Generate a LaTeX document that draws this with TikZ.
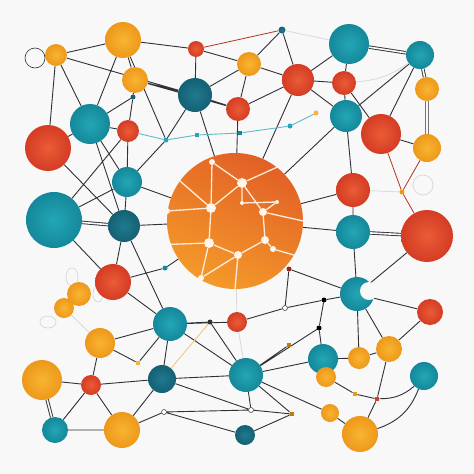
\documentclass[tikz,border=0pt]{standalone}
\usetikzlibrary{backgrounds}

\definecolor{paper}{RGB}{248,248,248}
\definecolor{wire}{RGB}{48,49,54}
\definecolor{amberC}{RGB}{238,152,26}
\definecolor{amberL}{RGB}{248,180,50}
\definecolor{emberC}{RGB}{212,60,36}
\definecolor{emberL}{RGB}{234,92,54}
\definecolor{lagoonC}{RGB}{20,136,154}
\definecolor{lagoonL}{RGB}{36,166,182}
\definecolor{deepC}{RGB}{20,96,116}
\definecolor{deepL}{RGB}{32,122,142}
\definecolor{hubC}{RGB}{244,154,42}
\definecolor{hubD}{RGB}{226,96,38}

\tikzset{
  ball/.style={circle, inner sep=0pt, minimum size=#1pt},
  amber/.style={ball=#1, inner color=amberL, outer color=amberC},
  ember/.style={ball=#1, inner color=emberL, outer color=emberC},
  lagoon/.style={ball=#1, inner color=lagoonL, outer color=lagoonC},
  deep/.style={ball=#1, inner color=deepL, outer color=deepC},
  spot/.style={circle, inner sep=0pt, minimum size=#1pt, fill=white!92!orange},
  knot/.style={circle, inner sep=0pt, minimum size=5pt, fill=#1},
  tag/.style={rectangle, inner sep=0pt, minimum size=4.5pt, fill=#1},
  hollow/.style={circle, inner sep=0pt, minimum size=5pt, fill=white, draw=wire, line width=0.5pt},
  ring/.style={circle, inner sep=0pt, minimum size=20pt, draw=#1, line width=0.6pt},
  link/.style={draw=wire, line width=0.9pt},
  twin/.style={link, double=paper, double distance=1.6pt},
  faint/.style={draw=gray!30, line width=0.8pt},
  spoke/.style={draw=white!85!orange, line width=1.3pt},
  tealink/.style={draw=lagoonL!75, line width=0.9pt},
  redlink/.style={draw=emberC!85!black, line width=0.8pt},
}

\begin{document}
\begin{tikzpicture}[x=1pt, y=-1pt]
  \useasboundingbox (0,0) rectangle (474,474);
  \begin{scope}[on background layer]
    \fill[paper] (0,0) rectangle (474,474);
  \end{scope}

  %% big hub
  \node[circle, inner sep=0pt, minimum size=136pt, top color=hubD, bottom color=hubC, shading angle=-25] (hub) at (235,221) {};

  %% amber balls
  \node[amber=36] (a1) at (123,40) {};
  \node[amber=22] (a2) at (56,55) {};
  \node[amber=26] (a3) at (135,80) {};
  \node[amber=24] (a4) at (249,64) {};
  \node[amber=24] (a5) at (427,89) {};
  \node[amber=28] (a6) at (427,148) {};
  \node[amber=20] (a8) at (64,308) {};
  \node[amber=24] (a7) at (79,294) {};
  \node[amber=30] (a9) at (100,343) {};
  \node[amber=40] (a10) at (42,380) {};
  \node[amber=36] (a11) at (122,430) {};
  \node[amber=22] (a12) at (359,358) {};
  \node[amber=26] (a13) at (389,349) {};
  \node[amber=18] (a15) at (330,413) {};
  \node[amber=36] (a16) at (360,434) {};

  %% ember balls
  \node[ember=16] (r1) at (196,49) {};
  \node[ember=24] (r2) at (238,109) {};
  \node[ember=22] (r3) at (128,131) {};
  \node[ember=46] (r4) at (48,148) {};
  \node[ember=32] (r5) at (298,80) {};
  \node[ember=24] (r6) at (344,83) {};
  \node[ember=40] (r7) at (381,134) {};
  \node[ember=34] (r8) at (353,190) {};
  \node[ember=52] (r9) at (427,236) {};
  \node[ember=36] (r10) at (113,282) {};
  \node[ember=20] (r11) at (237,322) {};
  \node[ember=20] (r12) at (91,385) {};
  \node[ember=26] (r13) at (430,312) {};

  %% teal balls
  \node[deep=34] (t1) at (195,95) {};
  \node[lagoon=40] (t2) at (90,124) {};
  \node[lagoon=30] (t3) at (127,182) {};
  \node[lagoon=56] (t4) at (54,220) {};
  \node[deep=32] (t5) at (124,226) {};
  \node[lagoon=40] (t6) at (349,44) {};
  \node[lagoon=28] (t7) at (420,55) {};
  \node[lagoon=32] (t8) at (346,116) {};
  \node[lagoon=34] (t9) at (353,232) {};
  \node[lagoon=34] (t10) at (357,294) {};
  \node[lagoon=34] (t11) at (170,324) {};
  \node[deep=28] (t12) at (162,379) {};
  \node[lagoon=34] (t13) at (246,375) {};
  \node[lagoon=30] (t14) at (323,359) {};
  \node[amber=20] (a14) at (326,377) {};
  \node[lagoon=28] (t15) at (424,376) {};
  \node[lagoon=26] (t16) at (55,430) {};
  \node[deep=20] (t17) at (245,435) {};
  \node[deep=7] (d0) at (282,30) {};
  \fill[paper] (369,291) circle (9);

  %% empty rings
  \node[ring=wire] (c1) at (35,58) {};
  \node[ring=gray!35] (c2) at (423,185) {};

  %% small junctions
  \node[knot=deepC] (j1) at (133,97) {};
  \node[knot=lagoonL] (j2) at (166,140) {};
  \node[tag=lagoonL] (j3) at (197,135) {};
  \node[tag=lagoonC] (j4) at (240,133) {};
  \node[knot=lagoonL] (j5) at (290,126) {};
  \node[knot=amberL] (jy1) at (316,113) {};
  \node[knot=amberC] (jo) at (402,192) {};
  \node[tag=emberC] (jr) at (377,399) {};
  \node[tag=amberC] (jy2) at (355,394) {};
  \node[tag=amberL] (jy3) at (138,363) {};
  \node[knot=wire] (k1) at (210,322) {};
  \node[hollow] (k2) at (251,410) {};
  \node[tag=amberC!80!black] (k3) at (289,345) {};
  \node[tag=amberC!80!black] (k4) at (292,414) {};
  \node[hollow] (k5) at (285,308) {};
  \node[hollow] (k6) at (164,412) {};
  \node[knot=lagoonC] (k7) at (165,268) {};
  \node[knot=black] (k8) at (324,300) {};
  \node[knot=black] (k9) at (319,328) {};
  \node[knot=emberC!70!black] (k10) at (289,269) {};

  %% white spots on the hub
  \node[spot=6] (h1) at (212,162) {};
  \node[spot=10] (h2) at (242,183) {};
  \node[spot=10] (h3) at (211,208) {};
  \node[spot=8] (h4) at (263,212) {};
  \node[spot=4] (h5) at (242,203) {};
  \node[spot=4] (h6) at (277,202) {};
  \node[spot=10] (h7) at (209,243) {};
  \node[spot=8] (h8) at (265,240) {};
  \node[spot=8] (h9) at (238,255) {};
  \node[spot=6] (h10) at (273,249) {};
  \node[spot=6] (h11) at (201,278) {};
  \node[spot=6] (h12) at (167,211) {};

  \draw[spoke] (h3) -- (h2) -- (h4) -- (h8) -- (h9) -- (h7) -- (h3)
    (h1) -- (h2)  (h1) -- (h3)  (h3) -- (h12)  (h3) -- (hub.144)
    (h2) -- (hub.52)  (h4) -- (hub.0)  (h4) -- (h6)  (h5) -- (h6)
    (h5) -- (h2)  (h8) -- (h10)  (h10) -- (hub.-30)  (h9) -- (h11)
    (h7) -- (h11)  (h9) -- (hub.-90)  (h7) -- (hub.200);

  %% connectors
  \begin{scope}[on background layer]
    \draw[link] (a2) -- (a1)  (a2) -- (t2)  (a2) -- (r4)  (a2) -- (t1)
      (a1) -- (t2)  (a1) -- (a3)  (a1) -- (r1)  (a1) -- (j2)
      (a3) -- (t1)  (a3) -- (j1)  (j1) -- (r3)  (t2) -- (j1)  (a3) -- (r2)
      (t2) -- (r4)  (t2) -- (t3)  (t2) -- (t5)  (t2) -- (r3)
      (r4) -- (t5)  (r3) -- (t4)  (r3) -- (t3)
      (r1) -- (t1)  (r1) -- (a4)  (t1) -- (r2)  (t1) -- (a4)  (t1) -- (j2)  (t1) -- (hub)
      (a4) -- (d0)  (a4) -- (r2)  (a4) -- (r5)  (d0) -- (r5)  (r2) -- (r5)  (r2) -- (hub)
      (r5) -- (r6)  (r5) -- (t6)  (r5) -- (hub)  (r5) -- (t8)
      (r6) -- (t6)  (r6) -- (t8)  (r6) -- (r7)  (t7) -- (r7)  (t7) -- (t8)  (a6) -- (r7)
      (t8) -- (hub)  (t8) -- (r8)  (r8) -- (hub)  (r8) -- (t9)  (t9) -- (hub)  (t9) -- (t10)
      (r9) -- (t10)  (t10) -- (r13)  (t10) -- (a13)  (r13) -- (a13)  (t10) -- (a12)
      (a12) -- (a13)  (t14) -- (a12)
      (t4) -- (t3)  (t4) -- (r10)  (t5) -- (t3)  (t5) -- (r10)  (t5) -- (hub)  (t3) -- (hub)
      (t5) -- (t11)  (t3) -- (j2)  (r10) -- (k7)  (k7) -- (hub)  (r10) -- (t11)
      (t11) -- (r11)  (t11) -- (t12)  (t11) -- (t13)  (t12) -- (t13)  (k1) -- (t13)
      (t11) -- (k1)  (t13) -- (k3)  (t13) -- (k4)  (t12) -- (k2)  (k2) -- (k4)  (k2) -- (t13)
      (t13) -- (t14)  (r11) -- (k5)
      (a10) -- (r12)  (r12) -- (t16)  (r12) -- (a11)  (r12) -- (a9)  (r12) -- (t12)
      (t16) -- (a11)  (a11) -- (t12)  (a11) -- (k6)  (k6) -- (k2)  (k6) -- (t17)
      (a9) -- (jy3)  (jy3) -- (t11)  (a9) -- (t11)
      (t13) -- (a15)  (a15) -- (a16)  (jr) -- (a16)  (jr) -- (a13)  (a14) -- (jy2)  (jy2) -- (jr)
      (t17) -- (k4)  (t10) -- (k8)  (k8) -- (k9)  (k9) -- (t13)  (k9) -- (t14)
      (k10) -- (t10)  (k10) -- (k5)  (k8) -- (k5);
    \draw[link] (a16) to[bend right=25] (t15)  (jr) to[bend right=20] (t15);
    \draw[twin] (t6) -- (t7)  (t7) -- (a5)  (a5) -- (a6)  (t4) -- (t5)  (t9) -- (r9)  (a10) -- (t16);
    \draw[redlink] (r1) -- (d0)  (a6) -- (jo)  (jo) -- (r9)  (r7) -- (jo);
    \draw[tealink] (j2) -- (j3) -- (j4) -- (j5) -- (jy1)  (r3) -- (j2);
    \draw[faint] (t7) to[bend left=15] (r6)  (d0) -- (t6)  (jo) -- (r8)  (r11) -- (hub)
      (r11) -- (t13)  (a8) -- (a9);
    \draw[draw=amberC!60, line width=0.8pt] (t12) -- (k1);
    \draw[faint] (72,277) ellipse (6 and 9)  (98,294) ellipse (5 and 8)  (48,322) ellipse (8 and 6);
  \end{scope}
\end{tikzpicture}
\end{document}
